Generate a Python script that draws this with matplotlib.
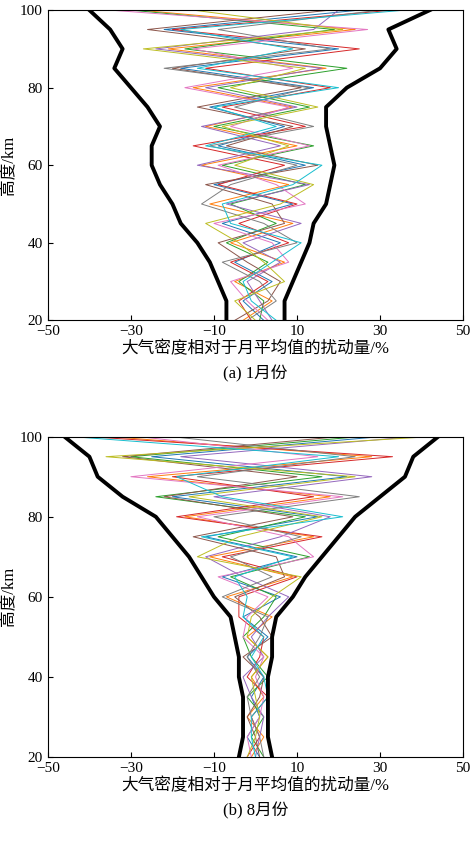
import matplotlib
matplotlib.use("Agg")
import matplotlib.pyplot as plt

plt.rcParams['font.family'] = ['Liberation Serif', 'Noto Sans CJK SC']
plt.rcParams['font.size'] = 11

H = [20, 25, 30, 35, 40, 45, 50, 55, 60, 65, 70, 75, 80, 85, 90, 95, 100]

# envelopes (thick black)
ENV_A_L = [-7, -7, -9, -11, -14, -18, -20, -23, -25, -25, -23, -26, -30, -34, -32, -35, -40]
ENV_A_R = [7, 7, 9, 11, 13, 14, 17, 18, 19, 18, 17, 17, 22, 30, 34, 32, 42]
ENV_B_L = [-4, -3, -3, -3, -4, -4, -5, -6, -10, -13, -16, -20, -24, -32, -38, -40, -46]
ENV_B_R = [4, 3, 3, 3, 3, 4, 4, 5, 9, 12, 16, 20, 24, 30, 36, 38, 44]

# a sample of individual perturbation profiles (estimated)
LINES_A = [
    [2, -3, 4, -5, 6, -8, 9, -10, 12, -9, 7, -11, 14, -18, 20, -22, 25],
    [-3, 4, -5, 7, -6, 9, -11, 8, -13, 10, -12, 9, -15, 17, -21, 24, -28],
    [1, 2, -4, 3, -7, 5, -6, 12, -8, 14, -10, 13, -9, 22, -17, 19, -30],
    [-1, -4, 3, -6, 8, -4, 10, -9, 7, -15, 12, -8, 18, -12, 25, -20, 33],
    [4, 1, -2, 6, -3, 11, -7, 13, -14, 6, -13, 10, -12, 16, -24, 14, 20],
    [-5, 3, 6, -2, -9, 7, 4, -12, 15, -7, 9, -14, 11, -20, 12, -26, 18],
    [3, -2, -6, 8, 4, -10, 12, 5, -9, 13, -6, 8, -17, 9, -15, 27, -35],
    [-2, 5, 1, -8, 10, 2, -13, -6, 10, -11, 14, -5, 13, -22, 18, -9, 30],
    [0, -5, 7, 2, -4, -12, 6, 14, -5, 8, -8, 15, -6, 12, -27, 21, -15],
    [5, -1, -3, 4, 11, -6, -8, 9, 16, -12, 5, -10, 20, -14, 9, -18, 36],
]
LINES_B = [
    [1, -2, 1, -1, 2, -2, 3, -3, 6, -8, 10, -12, 15, -20, 22, -25, 30],
    [-1, 2, -2, 2, -1, 3, -2, 4, -7, 9, -11, 14, -17, 18, -26, 28, -35],
    [2, -1, 2, -2, 3, -1, -3, 2, 5, -6, 13, -9, 12, -24, 16, -30, 25],
    [-2, 1, -1, 3, -2, 1, 2, -4, -4, 10, -8, 16, -19, 14, -20, 33, -40],
    [0, 1, 2, -1, -3, 2, -1, 3, 8, -3, -12, 6, 18, -10, 28, -18, 38],
    [1, 0, -2, 1, 2, -3, 4, 1, -5, 7, 5, -15, 9, -22, 10, -32, 20],
    [-1, -2, 1, 2, 0, 2, -3, -2, 3, -9, 14, 8, -14, 21, -30, 15, -28],
    [2, 1, -1, -2, 1, -2, 1, 3, -8, 4, -6, 11, -10, 25, -14, 24, -20],
    [-2, 0, 1, 0, -1, 3, -2, -1, 4, 11, -14, -4, 16, -16, 24, -36, 42],
    [0, -1, -1, 3, 2, -1, 2, -3, -2, -5, 9, -13, 21, -8, -19, 20, -44],
]
COLORS = ["#1f77b4", "#ff7f0e", "#2ca02c", "#d62728", "#9467bd",
          "#8c564b", "#e377c2", "#7f7f7f", "#bcbd22", "#17becf"]
XTICKS = [-50, -30, -10, 10, 30, 50]
XLABEL = "大气密度相对于月平均值的扰动量/%"
YLABEL = "高度/km"

fig = plt.figure(figsize=(4.74, 8.43), dpi=100)
axA = fig.add_axes([0.101, 0.620, 0.876, 0.368])
axB = fig.add_axes([0.101, 0.102, 0.876, 0.380])

for ax, lines, el, er, cap in [(axA, LINES_A, ENV_A_L, ENV_A_R, "(a) 1月份"),
                               (axB, LINES_B, ENV_B_L, ENV_B_R, "(b) 8月份")]:
    for i, ln in enumerate(lines):
        ax.plot(ln, H, color=COLORS[i % len(COLORS)], lw=0.7)
    ax.plot(el, H, color="black", lw=2.8)
    ax.plot(er, H, color="black", lw=2.8)
    ax.set_xlim(-50, 50)
    ax.set_ylim(20, 100)
    ax.set_xticks(XTICKS)
    ax.set_yticks([20, 40, 60, 80, 100])
    ax.tick_params(direction="in", labelsize=11)
    ax.set_ylabel(YLABEL, fontsize=12, labelpad=2)
    ax.set_xlabel(XLABEL + "\n" + cap, fontsize=12, labelpad=2, linespacing=1.6)

fig.savefig("out.png", dpi=100)
